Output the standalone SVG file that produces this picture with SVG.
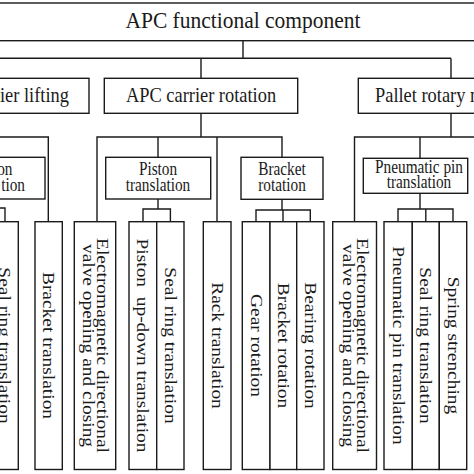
<svg xmlns="http://www.w3.org/2000/svg" width="474" height="474" viewBox="0 0 474 474">
<style>
.b{fill:#fff;stroke:#1a1a1a;stroke-width:1.4}
.c{fill:none;stroke:#1a1a1a;stroke-width:1.4}
text{font-family:"Liberation Serif","Times New Roman",serif;fill:#1a1a1a}
.t1{font-size:21.5px;text-anchor:middle}
.t2{font-size:18.4px}
.t3{font-size:15.3px;text-anchor:middle}
.t4{font-size:16.6px;text-anchor:middle}
</style>
<rect width="474" height="474" fill="#fff"/>
<g id="connectors" class="c">
<path d="M243 40.7V58.3M-5 58.3H451M201 58.3V78.3M451 58.3V78.3"/>
<path d="M-5 137H48.3V221.7"/>
<path d="M-30 208H5V221.7"/>
<path d="M201 113.3V137M97 221.7V137H282V157.3M158 137V157.3M217 137V221.7"/>
<path d="M158 199V209M143 221.7V209H170.4V221.7"/>
<path d="M282 199.3V210M256 221.7V210H310.3V221.7M283 210V221.7"/>
<path d="M451 113.3V137M479 137H354.5V221.7M420 137V158.3"/>
<path d="M420 193.3V209M398 221.7V209H453V221.7M425.8 209V221.7"/>
</g>
<g id="n-root"><rect class="b" x="-5" y="3" width="484" height="37.7"/><text class="t1" transform="translate(243 28.3) scale(1 1.08)">APC functional component</text></g>
<g id="n-lifting"><rect class="b" x="-100" y="78.3" width="189" height="35"/><text class="t2" transform="translate(0 102) scale(1 1.17)">ier lifting</text></g>
<g id="n-rotation"><rect class="b" x="104.3" y="78.3" width="193.4" height="35"/><text class="t2" text-anchor="middle" transform="translate(201 102) scale(1 1.17)">APC carrier rotation</text></g>
<g id="n-pallet"><rect class="b" x="358.3" y="78.3" width="200" height="35"/><text class="t2" transform="translate(375 102) scale(1 1.17)">Pallet rotary m</text></g>
<g id="n-lift-piston"><rect class="b" x="-60" y="157.3" width="105" height="41.7"/><text class="t3" style="text-anchor:end" transform="translate(0 175) scale(1 1.17)"><tspan x="12.5" y="0">on</tspan><tspan x="25" y="13.3">tion</tspan></text></g>
<g id="n-rot-piston"><rect class="b" x="105.7" y="157.3" width="105" height="41.7"/><text class="t3" transform="translate(158 175) scale(1 1.17)"><tspan x="0" y="0">Piston</tspan><tspan x="0" y="13.3">translation</tspan></text></g>
<g id="n-bracket"><rect class="b" x="241" y="157.3" width="82" height="42"/><text class="t3" transform="translate(282 175) scale(1 1.17)"><tspan x="0" y="0">Bracket</tspan><tspan x="0" y="13.4">rotation</tspan></text></g>
<g id="n-pneumatic"><rect class="b" x="363.3" y="158.3" width="104.4" height="35"/><text class="t3" transform="translate(419 172.7) scale(1 1.17)"><tspan x="0" y="0">Pneumatic pin</tspan><tspan x="0" y="13.3">translation</tspan></text></g>
<g id="l-seal0"><rect class="b" x="-9.3" y="221.7" width="27.6" height="247.8"/><text class="t4" transform="translate(-1 345.5) scale(1 1.17) rotate(90)">Seal ring translation</text></g>
<g id="l-brtrans"><rect class="b" x="35" y="221.7" width="27.3" height="247.8"/><text class="t4" transform="translate(43.2 345.5) scale(1 1.17) rotate(90)">Bracket translation</text></g>
<g id="l-em1"><rect class="b" x="74.3" y="221.7" width="41.4" height="247.8"/><text class="t4" transform="translate(97 345.5) scale(1 1.17) rotate(90)"><tspan x="0" y="0">Electromagnetic directional</tspan><tspan x="0" y="14">valve opening and closing</tspan></text></g>
<g id="l-updown"><rect class="b" x="129" y="221.7" width="27.7" height="247.8"/><text class="t4" xml:space="preserve" transform="translate(137.4 345.5) scale(1 1.17) rotate(90)">Piston  up-down translation</text></g>
<g id="l-seal1"><rect class="b" x="156.7" y="221.7" width="27.3" height="247.8"/><text class="t4" transform="translate(164.9 345.5) scale(1 1.17) rotate(90)">Seal ring translation</text></g>
<g id="l-rack"><rect class="b" x="203.3" y="221.7" width="27.7" height="247.8"/><text class="t4" transform="translate(211.7 345.5) scale(1 1.17) rotate(90)">Rack translation</text></g>
<g id="l-gear"><rect class="b" x="242.3" y="221.7" width="27.7" height="247.8"/><text class="t4" transform="translate(250.7 345.5) scale(1 1.17) rotate(90)">Gear rotation</text></g>
<g id="l-brrot"><rect class="b" x="270" y="221.7" width="26.7" height="247.8"/><text class="t4" transform="translate(277.9 345.5) scale(1 1.17) rotate(90)">Bracket rotation</text></g>
<g id="l-bearing"><rect class="b" x="296.7" y="221.7" width="27.3" height="247.8"/><text class="t4" transform="translate(304.9 345.5) scale(1 1.17) rotate(90)">Bearing rotation</text></g>
<g id="l-em2"><rect class="b" x="332.7" y="221.7" width="43.8" height="247.8"/><text class="t4" transform="translate(356.6 345.5) scale(1 1.17) rotate(90)"><tspan x="0" y="0">Electromagnetic directional</tspan><tspan x="0" y="14">valve opening and closing</tspan></text></g>
<g id="l-pin"><rect class="b" x="384" y="221.7" width="28.3" height="247.8"/><text class="t4" transform="translate(392.7 345.5) scale(1 1.17) rotate(90)">Pneumatic pin translation</text></g>
<g id="l-seal2"><rect class="b" x="412.3" y="221.7" width="27" height="247.8"/><text class="t4" transform="translate(420.3 345.5) scale(1 1.17) rotate(90)">Seal ring translation</text></g>
<g id="l-spring"><rect class="b" x="439.3" y="221.7" width="27.4" height="247.8"/><text class="t4" transform="translate(447.5 345.5) scale(1 1.17) rotate(90)">Spring strenching</text></g>
</svg>
